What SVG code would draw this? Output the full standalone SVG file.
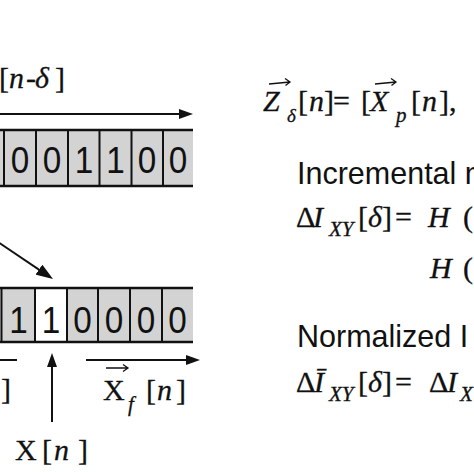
<svg xmlns="http://www.w3.org/2000/svg" width="474" height="474" viewBox="0 0 474 474">
<defs>
<style>
.cell{fill:#d3d3d3}
.wcell{fill:#ffffff}
.bd{stroke:#111;stroke-width:2.4;fill:none}
.dv{stroke:#111;stroke-width:2;fill:none}
.dig{font-family:"Liberation Sans",Arial,sans-serif;font-size:37px;fill:#111;text-anchor:middle}
.lbl{font-family:"Liberation Sans",Arial,sans-serif;font-size:30.5px;fill:#111}
.m{font-family:"Liberation Serif","Times New Roman",serif;font-size:30px;fill:#111;stroke:#111;stroke-width:0.3}
.i{font-style:italic}
.sub{font-size:21px}
.con{stroke:#111;stroke-width:2;fill:none}
.vec{stroke:#111;stroke-width:1.3;fill:none}
</style>
<marker id="ah" markerWidth="14" markerHeight="10" refX="10" refY="5" orient="auto" markerUnits="userSpaceOnUse"><path d="M0,0 L14,5 L0,10 z" fill="#111"/></marker>
<marker id="ah2" markerWidth="17" markerHeight="12" refX="13" refY="6" orient="auto" markerUnits="userSpaceOnUse"><path d="M0,0 L17,6 L0,12 z" fill="#111"/></marker>
</defs>
<rect width="474" height="474" fill="#fff"/>

<g id="top-row">
<rect class="cell" x="0" y="130" width="193" height="56"/>
<g id="top-c1"><text class="dig" transform="translate(20,173) scale(0.9,1)">0</text></g>
<g id="top-c2"><text class="dig" transform="translate(52,173) scale(0.9,1)">0</text></g>
<g id="top-c3"><text class="dig" transform="translate(84,173) scale(0.9,1)">1</text></g>
<g id="top-c4"><text class="dig" transform="translate(115.5,173) scale(0.9,1)">1</text></g>
<g id="top-c5"><text class="dig" transform="translate(147,173) scale(0.9,1)">0</text></g>
<g id="top-c6"><text class="dig" transform="translate(178,173) scale(0.9,1)">0</text></g>
<path class="bd" d="M0 130H193M0 186H193"/>
<path class="dv" d="M4 130V186M36 130V186M68 130V186M99.5 130V186M131.5 130V186M163 130V186"/>
</g>

<g id="bottom-row">
<rect class="cell" x="0" y="288" width="193" height="54"/>
<rect class="wcell" x="35" y="288" width="32" height="54"/>
<g id="bot-c1"><text class="dig" transform="translate(18.5,333) scale(0.9,1)">1</text></g>
<g id="bot-c2"><text class="dig" transform="translate(51,333) scale(0.9,1)">1</text></g>
<g id="bot-c3"><text class="dig" transform="translate(82.5,333) scale(0.9,1)">0</text></g>
<g id="bot-c4"><text class="dig" transform="translate(114,333) scale(0.9,1)">0</text></g>
<g id="bot-c5"><text class="dig" transform="translate(146,333) scale(0.9,1)">0</text></g>
<g id="bot-c6"><text class="dig" transform="translate(177.5,333) scale(0.9,1)">0</text></g>
<path class="bd" d="M0 288H193M0 342H193"/>
<path class="dv" d="M1.5 288V342M35 288V342M67 288V342M98 288V342M130 288V342M162 288V342"/>
</g>

<g id="connectors">
<line class="con" x1="0" y1="114" x2="189" y2="114" marker-end="url(#ah)"/>
<line class="con" x1="-2" y1="242" x2="49.7" y2="276.8" stroke-width="2.2" marker-end="url(#ah2)"/>
<line class="con" x1="52" y1="422" x2="52" y2="357" marker-end="url(#ah)"/>
<line class="con" x1="86" y1="360" x2="196" y2="360" marker-end="url(#ah)"/>
<line class="con" x1="0" y1="360" x2="17" y2="360"/>
</g>

<g id="label-delay">
<text class="m" y="88" font-size="33"><tspan x="-1">[</tspan><tspan x="9" class="i">n</tspan><tspan x="26">-</tspan><tspan x="35" class="i">δ</tspan><tspan x="55">]</tspan></text>
</g>
<g id="label-past">
<text class="m" x="1" y="399" font-size="33">]</text>
</g>
<g id="label-future">
<text class="m" y="400" font-size="32"><tspan x="103">X</tspan><tspan x="128" y="411" class="i sub">f</tspan><tspan x="146" y="400">[</tspan><tspan x="157" class="i">n</tspan><tspan x="176">]</tspan></text>
<path class="vec" d="M106 368H128M123 364.5L128 368L123 371.5"/>
</g>
<g id="label-x">
<text class="m" y="460" font-size="34"><tspan x="15">X</tspan><tspan x="42">[</tspan><tspan x="54" class="i">n</tspan><tspan x="78">]</tspan></text>
</g>

<g id="eq-z">
<text class="m" y="111" font-size="34"><tspan x="263" class="i">Z</tspan><tspan x="287" y="122" class="i" font-size="19">δ</tspan><tspan x="298" y="111">[</tspan><tspan x="309" class="i">n</tspan><tspan x="324">]</tspan><tspan x="333">=</tspan><tspan x="361">[</tspan><tspan x="370" class="i">X</tspan><tspan x="396" y="122" class="i sub">p</tspan><tspan x="411" y="111">[</tspan><tspan x="422" class="i">n</tspan><tspan x="439">],</tspan></text>
<path class="vec" d="M269 84L290 82M285 78.5L290 82L285.5 85.5"/>
<path class="vec" d="M375 84L396 82M391 78.5L396 82L391.5 85.5"/>
</g>

<g id="title-incremental">
<text class="lbl" x="297" y="184">Incremental m</text>
</g>
<g id="eq-incremental">
<text class="m" y="227"><tspan x="296">Δ</tspan><tspan x="313" class="i">I</tspan><tspan x="329" y="236" class="i sub">XY</tspan><tspan x="358" y="227">[</tspan><tspan class="i">δ</tspan><tspan>]</tspan><tspan x="395">=</tspan><tspan x="428" class="i">H</tspan><tspan x="463">(</tspan></text>
<text class="m" y="278"><tspan x="430" class="i">H</tspan><tspan x="463">(</tspan></text>
</g>

<g id="title-normalized">
<text class="lbl" x="297" y="347">Normalized I</text>
</g>
<g id="eq-normalized">
<text class="m" y="392"><tspan x="296">Δ</tspan><tspan x="314" class="i">Ī</tspan><tspan x="329" y="401" class="i sub">XY</tspan><tspan x="358" y="392">[</tspan><tspan class="i">δ</tspan><tspan>]</tspan><tspan x="395">=</tspan><tspan x="429">Δ</tspan><tspan x="447" class="i">I</tspan><tspan x="460" y="401" class="i sub">X</tspan></text>
</g>
</svg>
